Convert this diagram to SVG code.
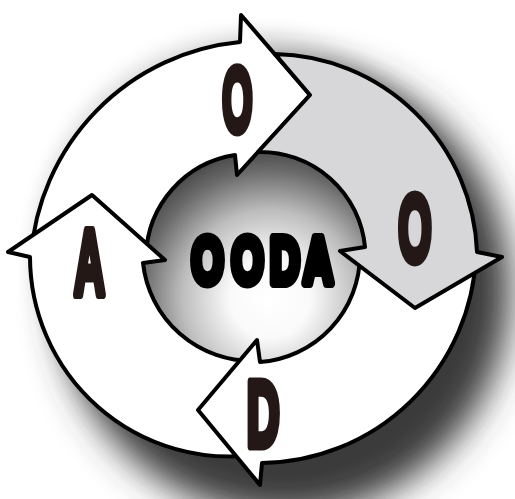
<svg xmlns="http://www.w3.org/2000/svg" width="515" height="499" viewBox="0 0 515 499">
  <style>
    .arrow { stroke: #000; stroke-width: 4; stroke-linejoin: round; }
    .white { fill: #fff; }
    .grey { fill: #d7d7da; }
    .lbl { font-family: "Liberation Sans", Arial, sans-serif; font-weight: bold; fill: #231815; stroke: #231815; stroke-width: 9; stroke-linejoin: round; text-anchor: middle; }
    .title { fill: #000; stroke: #000; stroke-width: 10; text-anchor: start; }
  </style>
  <defs>
    <filter id="blurBig" filterUnits="userSpaceOnUse" x="0" y="0" width="515" height="499">
      <feGaussianBlur stdDeviation="18"/>
    </filter>
    <filter id="blurSmall" filterUnits="userSpaceOnUse" x="0" y="0" width="515" height="499">
      <feGaussianBlur stdDeviation="10"/>
    </filter>
    <radialGradient id="holeGrad" gradientUnits="userSpaceOnUse" cx="270" cy="298" r="160" fx="270" fy="298">
      <stop offset="0" stop-color="#ffffff"/>
      <stop offset="0.25" stop-color="#fafafa"/>
      <stop offset="0.55" stop-color="#bdbdbd"/>
      <stop offset="0.8" stop-color="#6a6a6a"/>
      <stop offset="1" stop-color="#383838"/>
    </radialGradient>
  </defs>
  <rect width="515" height="499" fill="#fff"/>
  <g id="shadow">
    <circle cx="252" cy="250" r="216" fill="#000" opacity="0.12" filter="url(#blurSmall)"/>
    <circle cx="284" cy="290" r="226" fill="#3a3a3a" filter="url(#blurBig)"/>
  </g>
  <g id="hole">
    <circle cx="254" cy="257" r="116" fill="url(#holeGrad)"/>
  </g>
  <g id="connectors">
    <g id="observe">
      <path class="arrow white" d="M31,256 A232,232 0 0 1 240,42 L241,15 L310,95 L237,175 L235,155 A105,105 0 0 0 146,256 Z"/>
    </g>
    <g id="act">
      <path class="arrow white" d="M30,257 L8,252 L92,195 L165,260 L143,263 A110,110 0 0 0 255,361 L255,455 A200,200 0 0 1 30,257 Z"/>
    </g>
    <g id="decide">
      <path class="arrow white" d="M198,410 L257,340 L260,362 A108,108 0 0 0 360,255 L476,255 A217,217 0 0 1 262,463 L260,485 Z"/>
    </g>
    <g id="orient">
      <path class="arrow grey" d="M275,54 A206,206 0 0 1 477,252 L502,257 L415,308 L340,251 L365,247 A105,105 0 0 0 258,152 L310,95 Z"/>
    </g>
  </g>
  <g id="labels">
    <text class="lbl" font-size="91.6" transform="translate(237.5,131.2) scale(0.425,1)">O</text>
    <text class="lbl" font-size="94.3" transform="translate(415,261.2) scale(0.455,1)">O</text>
    <text class="lbl" font-size="92.2" transform="translate(263.25,445.5) scale(0.494,1)">D</text>
    <text class="lbl" font-size="92.2" transform="translate(89.5,293.5) scale(0.464,1)">A</text>
    <text class="lbl title" font-size="65.4" transform="translate(0,282.6) scale(0.63,1)" x="304 367.5 428.7 481.2">OODA</text>
  </g>
</svg>
